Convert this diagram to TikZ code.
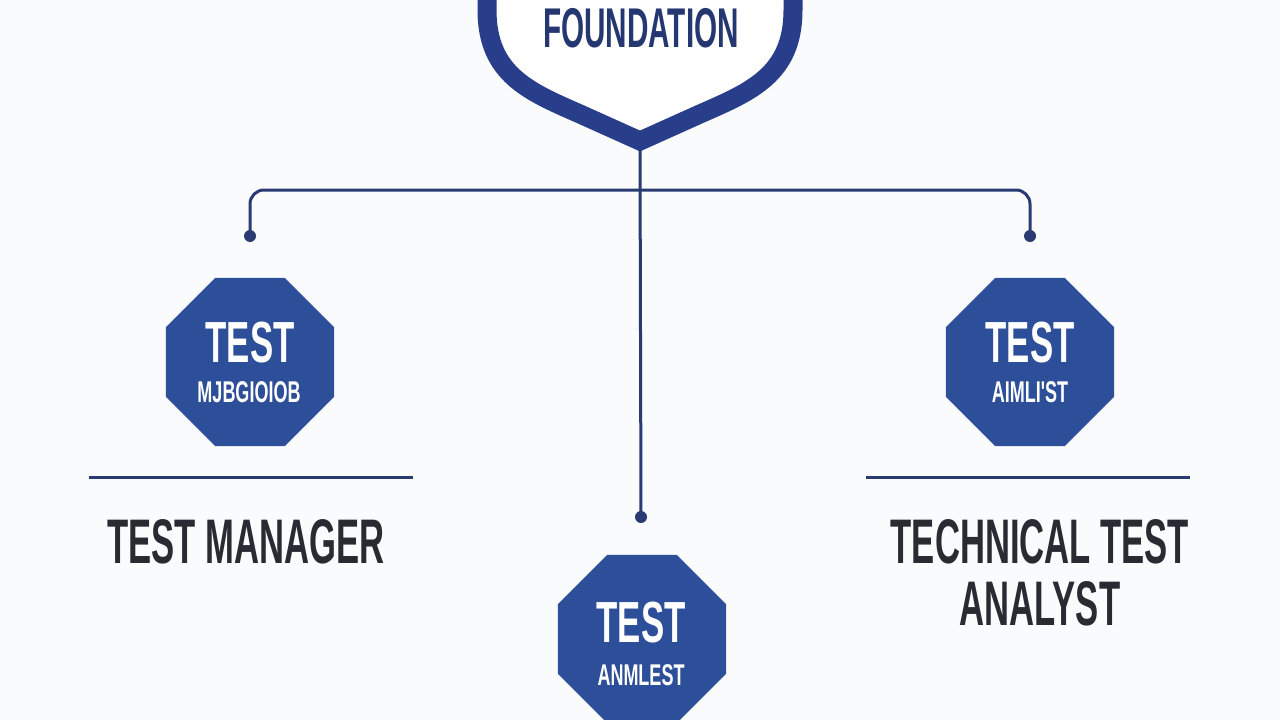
\documentclass[tikz,border=0pt]{standalone}
\usepackage{fontspec}
\usetikzlibrary{shapes.geometric}
\setmainfont{Liberation Sans}
\newfontfamily\cond[FakeStretch=0.55]{Liberation Sans}
\newfontfamily\condb[FakeStretch=0.6]{Liberation Sans}
\newfontfamily\condf[FakeStretch=0.53]{Liberation Sans}
\definecolor{bg}{RGB}{250,251,252}
\definecolor{navy}{RGB}{40,62,138}
\definecolor{linecol}{RGB}{42,58,115}
\definecolor{octfill}{RGB}{45,78,152}
\definecolor{darktxt}{RGB}{40,44,50}
\definecolor{fndtxt}{RGB}{36,55,112}
\tikzset{
  conn/.style={draw=linecol, line width=3pt},
  dotnode/.style={circle, fill=linecol, inner sep=0pt, minimum size=12pt},
  octa/.style={regular polygon, regular polygon sides=8, fill=octfill, draw=none, minimum size=182pt, inner sep=0pt},
  octtop/.style={text=white, font=\condb\bfseries\fontsize{58}{58}\selectfont},
  octsub/.style={text=white, font=\condb\bfseries\fontsize{30}{30}\selectfont},
  biglabel/.style={text=darktxt, font=\cond\bfseries\fontsize{63}{62}\selectfont, align=center},
  rule/.style={draw=linecol, line width=3pt},
}
\begin{document}
\begin{tikzpicture}[x=1pt,y=-1pt]
\useasboundingbox (0,0) rectangle (1280,720);
\clip (0,0) rectangle (1280,720);
\fill[bg] (0,0) rectangle (1280,720);
% shield
\draw[navy, line width=19pt, line join=miter, fill=white]
  (487,-40) -- (487,10) .. controls (487,75) and (530,92) .. (580,114)
  -- (640,141) -- (700,114)
  .. controls (750,92) and (793,75) .. (793,10) -- (793,-40);
\node[text=fndtxt, font=\condf\bfseries\fontsize{56}{56}\selectfont] (fnd) at (641,28) {FOUNDATION};
\coordinate (tip) at (640,150);
\coordinate (hub) at (640,190);
% dots
\node[dotnode] (dotL) at (250,236) {};
\node[dotnode] (dotR) at (1030,236) {};
\node[dotnode] (dotC) at (641,517) {};
\draw[conn, rounded corners=14pt] (dotL.center) |- (hub) -| (dotR.center);
\draw[conn] (tip) -- (dotC.center);
% octagons
\node[octa] (octL) at (250,362) {};
\node[octa] (octR) at (1030,362) {};
\node[octa] (octC) at (642,639) {};
\node[octtop] (tL) at (250,343) {TEST};
\node[octsub] (sL) at (249,392) {MJBGIOIOB};
\node[octtop] (tR) at (1030,343) {TEST};
\node[octsub] (sR) at (1030,392) {AIMLI'ST};
\node[octtop] (tC) at (641,623) {TEST};
\node[octsub] (sC) at (641,675) {ANMLEST};
% rules
\coordinate (r1a) at (89,477); \coordinate (r1b) at (413,477);
\coordinate (r2a) at (866,477); \coordinate (r2b) at (1190,477);
\draw[rule] (r1a) -- (r1b);
\draw[rule] (r2a) -- (r2b);
% labels
\node[biglabel] (lm) at (246,542) {TEST MANAGER};
\node[biglabel] (lt) at (1040,573) {TECHNICAL TEST\\ANALYST};
\end{tikzpicture}
\end{document}
